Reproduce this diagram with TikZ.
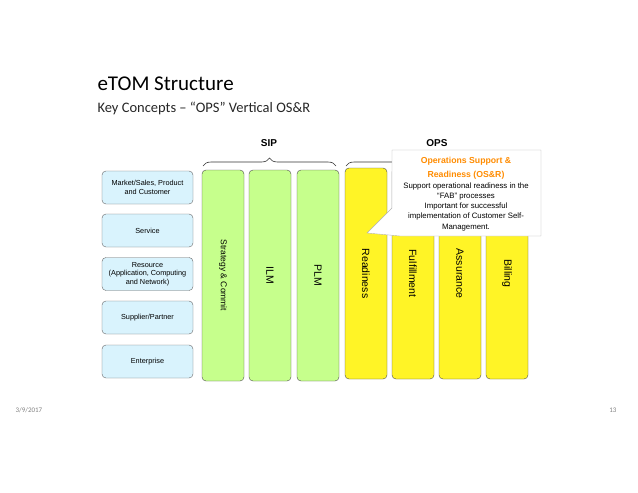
\documentclass[tikz,border=0pt]{standalone}
\usepackage{fontspec}
\setmainfont{Liberation Sans}
\newfontfamily\calib{Carlito}
\usetikzlibrary{decorations.pathreplacing}
\begin{document}
\begin{tikzpicture}[x=1pt,y=-1pt,
 lbox/.style={draw=gray!80!black,fill=cyan!15,rounded corners=4pt,minimum width=91pt,minimum height=33pt,align=center,font=\fontsize{7.3}{8.5}\selectfont,inner sep=1pt},
 gcol/.style={draw=black!70,fill=green!50!yellow!45,rounded corners=4pt,minimum width=42pt,minimum height=211pt},
 ycol/.style={draw=black!70,fill=yellow!85,rounded corners=4pt,minimum width=42pt,minimum height=211pt},
 ctxt/.style={rotate=-90,font=\fontsize{10.5}{12}\selectfont},
 brc/.style={decorate,decoration={brace,amplitude=8pt},draw=black!80,semithick}]
\useasboundingbox (0,0) rectangle (638,493);
\node[anchor=west,font=\calib\fontsize{21}{23}\selectfont] (t1) at (94,84) {eTOM Structure};
\node[anchor=west,font=\calib\fontsize{14.5}{16}\selectfont,text=black!85] (t2) at (94,108) {Key Concepts – “OPS” Vertical OS\&R};
\node[anchor=west,font=\calib\fontsize{7}{8}\selectfont,text=gray] (d) at (12,410) {3/9/2017};
\node[anchor=east,font=\calib\fontsize{7}{8}\selectfont,text=gray] (p) at (620,410) {13};
\node[lbox] (b1) at (147.5,187.5) {Market/Sales, Product\\and Customer};
\node[lbox] (b2) at (147.5,230.5) {Service};
\node[lbox] (b3) at (147.5,274) {Resource\\(Application, Computing\\and Network)};
\node[lbox] (b4) at (147.5,317.5) {Supplier/Partner};
\node[lbox] (b5) at (147.5,361.5) {Enterprise};
\node[gcol] (g1) at (223,275.5) {}; \node[ctxt,font=\fontsize{8.5}{10}\selectfont] at (g1) {Strategy \& Commit};
\node[gcol] (g2) at (270,275.5) {}; \node[ctxt] at (g2) {ILM};
\node[gcol] (g3) at (318,275.5) {}; \node[ctxt] at (g3) {PLM};
\node[ycol] (y1) at (366,273.5) {}; \node[ctxt] at (y1) {Readiness};
\node[ycol] (y2) at (413,273.5) {}; \node[ctxt] at (y2) {Fulfillment};
\node[ycol] (y3) at (460,273.5) {}; \node[ctxt] at (y3) {Assurance};
\node[ycol] (y4) at (507,273.5) {}; \node[ctxt] at (y4) {Billing};
\draw[brc] (203,166) -- (336,166);
\draw[brc] (346,166) -- (529,166);
\node[font=\bfseries\fontsize{10}{11}\selectfont] (sip) at (269,143) {SIP};
\node[font=\bfseries\fontsize{10}{11}\selectfont] (ops) at (437,143) {OPS};
\fill[white,draw=gray!60] (367,233) -- (392,208) -- (392,150) -- (541,150) -- (541,236) -- (400,236) -- cycle;
\node[align=center,font=\fontsize{7.8}{10.3}\selectfont,inner sep=0] (co) at (466,194)
 {{\color{orange!90!yellow}\bfseries\fontsize{8.7}{10}\selectfont Operations Support \&}\\[4pt]
  {\color{orange!90!yellow}\bfseries\fontsize{8.7}{10}\selectfont Readiness (OS\&R)}\\
  Support operational readiness in the\\ “FAB” processes\\ Important for successful\\ implementation of Customer Self-\\ Management.};
\end{tikzpicture}
\end{document}
